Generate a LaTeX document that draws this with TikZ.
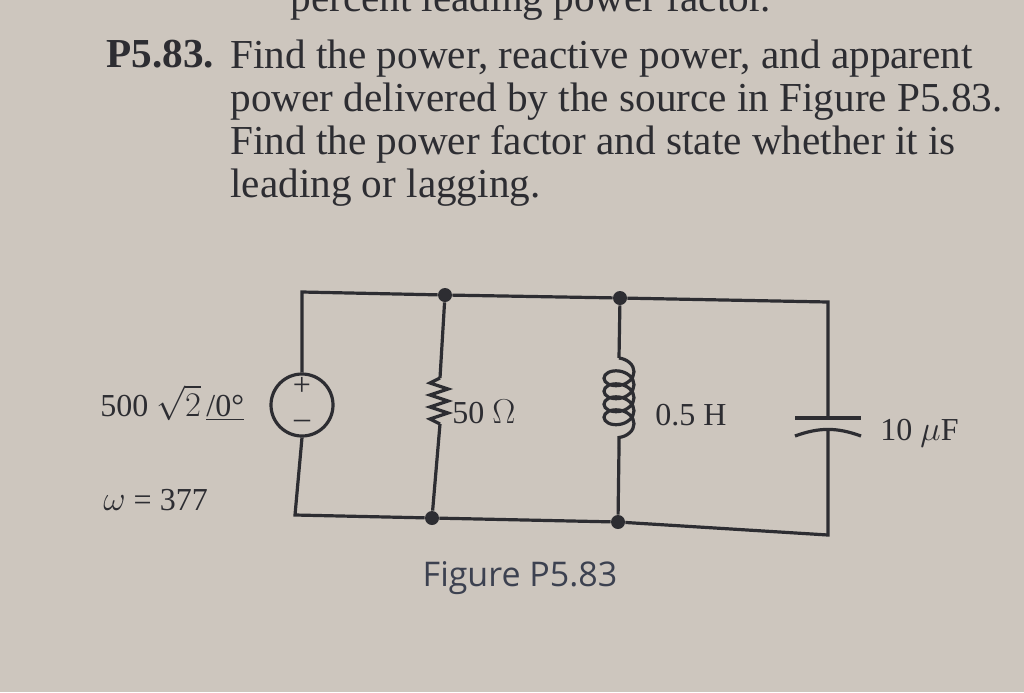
\documentclass[tikz,border=0pt]{standalone}
\usepackage{fontspec}
\setmainfont{Liberation Serif}
\newfontfamily\figsans{Open Sans}
\usetikzlibrary{decorations.pathmorphing}
\definecolor{paper}{RGB}{205,198,190}
\definecolor{ink}{RGB}{45,45,50}
\tikzset{
  wire/.style={ink, line width=1.6pt},
  dot/.style={circle, fill=ink, inner sep=0pt, minimum size=7pt},
  lbl/.style={ink, font=\fontsize{16}{16}\selectfont, inner sep=0pt},
  body/.style={ink, font=\fontsize{20.6}{21.5}\selectfont, anchor=north west, inner sep=0pt, align=left},
}
\begin{document}
\begin{tikzpicture}[x=0.5pt,y=-0.5pt]
\fill[paper] (0,0) rectangle (1024,692);
\useasboundingbox (0,0) rectangle (1024,692);
\node[body] (cut) at (290,-18) {percent leading power factor.};
\node[body, font=\fontsize{20.6}{21.5}\selectfont\bfseries] (pnum) at (106,40) {P5.83.};
\node[body] (txt) at (230,40) {Find the power, reactive power, and apparent\\power delivered by the source in Figure P5.83.\\Find the power factor and state whether it is\\leading or lagging.};
% nodes
\coordinate (tl) at (302,292);
\coordinate (bl) at (295,515);
\node[dot] (t1) at (445,295) {};
\node[dot] (t2) at (620,298) {};
\coordinate (tr) at (828,302);
\node[dot] (b1) at (432,518) {};
\node[dot] (b2) at (618,522) {};
\coordinate (br) at (828,535);
\node[circle, draw=ink, line width=1.6pt, minimum size=31pt, inner sep=0pt] (src) at (302,405) {};
\node[lbl] at (302,386) {+};
\node[lbl] at (302,424) {--};
% wires
\draw[wire] (src.north) -- (tl) -- (t1) -- (t2) -- (tr) -- (828,418);
\draw[wire] (828,430) -- (br) -- (b2) -- (b1) -- (bl) -- (src.south);
% resistor
\draw[wire] (t1) -- (440,378);
\draw[wire] (440,378) -- (430,383) -- (448,389) -- (430,395) -- (448,401) -- (430,407) -- (448,413) -- (430,419) -- (440,424);
\draw[wire] (440,424) -- (b1);
% inductor
\draw[wire] (t2) -- (619,358);
\draw[wire, decorate, decoration={coil, aspect=0.7, segment length=6.5pt, amplitude=7.5pt}] (619,358) -- (619,448);
\draw[wire] (619,448) -- (b2);
% capacitor
\draw[wire] (795,418) -- (861,418);
\draw[wire] (795,436) to[bend left=20] (861,436);
% labels
\node[lbl, anchor=west] (vs) at (100,403) {500 $\sqrt{2}$\,\underline{/0°}};
\node[lbl, anchor=west] (w) at (103,500) {$\omega$ = 377};
\node[lbl, anchor=west] (r) at (452,412) {50 $\Omega$};
\node[lbl, anchor=west] (l) at (655,415) {0.5 H};
\node[lbl, anchor=west] (c) at (880,433) {10 $\mu$F};
\node[font=\figsans\fontsize{17}{17}\selectfont, text={rgb,255:red,60;green,65;blue,80}] (fig) at (520,578) {Figure P5.83};
\end{tikzpicture}
\end{document}
